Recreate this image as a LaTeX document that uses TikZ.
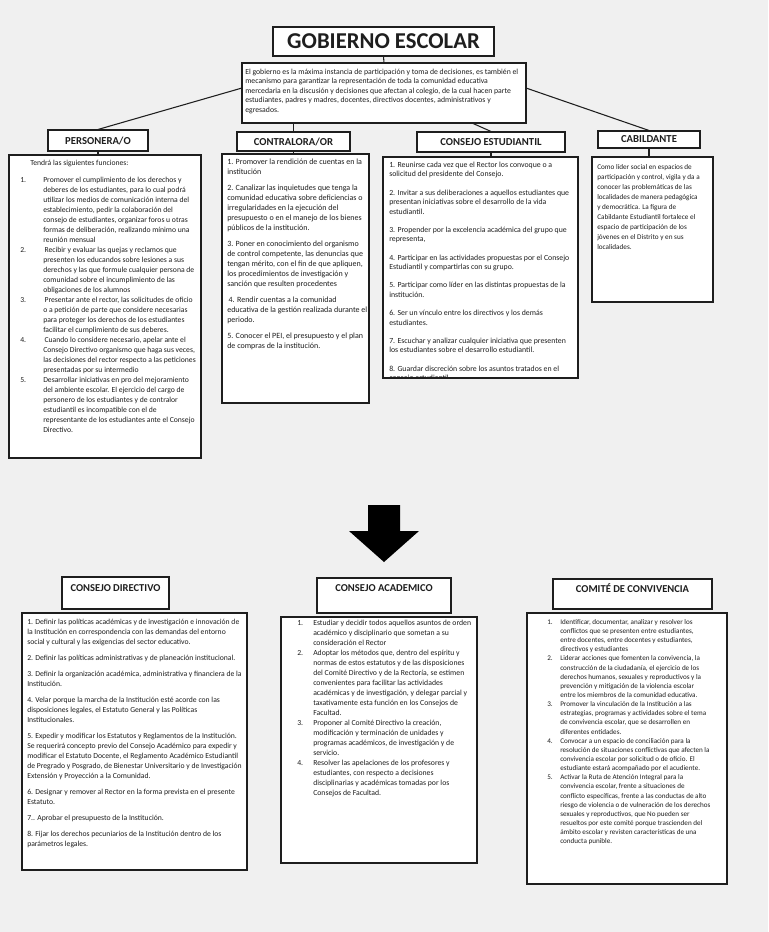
\documentclass[tikz,border=0pt]{standalone}
\usepackage{fontspec}
\setmainfont{Carlito}
\usetikzlibrary{fit}
\definecolor{bg}{RGB}{240,240,240}
\definecolor{ink}{RGB}{30,30,30}
\newcommand\tst{\rule{0pt}{5.25pt}}
\newcommand\itn[2]{\makebox[#1][l]{#2}}
\begin{document}
\begin{tikzpicture}[x=0.75pt,y=-0.75pt,
  bx/.style={draw=ink, fill=white, line width=0.8pt, inner sep=0pt},
  hd/.style={font=\fontsize{8}{9}\selectfont\bfseries, inner sep=0pt, text=ink},
  hdb/.style={font=\fontsize{7.9}{9}\selectfont\bfseries, inner sep=0pt, text=ink},
  tx/.style={anchor=north west, inner sep=0pt, align=left, text=ink},
  ln/.style={draw=ink, line width=0.8pt}]
\useasboundingbox (0,0) rectangle (768,932);
\fill[bg] (0,0) rectangle (768,932);

% ---------- top part ----------
\node[bx, fit={(273,27)(494,56)}] (title) {};
\node[font=\fontsize{17}{19}\selectfont\bfseries, inner sep=0pt, text=ink] (title-t) at (title.center) {GOBIERNO ESCOLAR};
\node[bx, fit={(242,63)(526,123)}] (desc) {};
\node[tx, font=\fontsize{5.8}{7.125}\selectfont] (desc-t) at (245,67) {\tst El gobierno es la máxima instancia de participación y toma de decisiones, es también el\\
mecanismo para garantizar la representación de toda la comunidad educativa\\
mercedaria en la discusión y decisiones que afectan al colegio, de la cual hacen parte\\
estudiantes, padres y madres, docentes, directivos docentes, administrativos y\\
egresados.};

\node[bx, fit={(48,130)(148,151)}] (pers) {};
\node[hd] (pers-t) at (pers.center) {PERSONERA/O};
\node[bx, fit={(237,132)(350,151)}] (contr) {};
\node[hd] (contr-t) at (contr.center) {CONTRALORA/OR};
\node[bx, fit={(417,132)(565,152)}] (cest) {};
\node[hd] (cest-t) at (cest.center) {CONSEJO ESTUDIANTIL};
\node[bx, fit={(598,131)(700,148)}] (cabi) {};
\node[hd] (cabi-t) at (cabi.center) {CABILDANTE};

\coordinate (dL) at (242,88);
\coordinate (dR) at (526,88);
\coordinate (dC) at (472,123);
\draw[ln] (title.south) -- (desc.north);
\draw[ln] (dL) -- (pers.north);
\draw[ln] (desc.south -| contr.north) -- (contr.north);
\draw[ln] (dC) -- (cest.north);
\draw[ln] (dR) -- (cabi.north);

% content boxes
\node[bx, fit={(9,155)(201,458)}] (persb) {};
\node[bx, fit={(222,154)(369,403)}] (contrb) {};
\node[bx, fit={(383,157)(578,378)}] (cestb) {};
\node[bx, fit={(592,157)(713,302)}] (cabib) {};
\draw[ln] (pers.south) -- (pers.south |- persb.north);
\draw[ln] (contr.south) -- (contr.south |- contrb.north);
\draw[ln] (cest.south) -- (cest.south |- cestb.north);
\draw[ln] (cabi.south) -- (cabi.south |- cabib.north);

\node[tx, font=\fontsize{5.75}{7.5}\selectfont] (pers-c) at (20,158) {\tst\hspace*{7.5pt}Tendrá las siguientes funciones:\\[5.25pt]
\itn{17.25pt}{1.}Promover el cumplimiento de los derechos y\\
\itn{17.25pt}{}deberes de los estudiantes, para lo cual podrá\\
\itn{17.25pt}{}utilizar los medios de comunicación interna del\\
\itn{17.25pt}{}establecimiento, pedir la colaboración del\\
\itn{17.25pt}{}consejo de estudiantes, organizar foros u otras\\
\itn{17.25pt}{}formas de deliberación, realizando mínimo una\\
\itn{17.25pt}{}reunión mensual\\
\itn{17.25pt}{2.}\,Recibir y evaluar las quejas y reclamos que\\
\itn{17.25pt}{}presenten los educandos sobre lesiones a sus\\
\itn{17.25pt}{}derechos y las que formule cualquier persona de\\
\itn{17.25pt}{}comunidad sobre el incumplimiento de las\\
\itn{17.25pt}{}obligaciones de los alumnos\\
\itn{17.25pt}{3.}\,Presentar ante el rector, las solicitudes de oficio\\
\itn{17.25pt}{}o a petición de parte que considere necesarias\\
\itn{17.25pt}{}para proteger los derechos de los estudiantes\\
\itn{17.25pt}{}facilitar el cumplimiento de sus deberes.\\
\itn{17.25pt}{4.}\,Cuando lo considere necesario, apelar ante el\\
\itn{17.25pt}{}Consejo Directivo organismo que haga sus veces,\\
\itn{17.25pt}{}las decisiones del rector respecto a las peticiones\\
\itn{17.25pt}{}presentadas por su intermedio\\
\itn{17.25pt}{5.}Desarrollar iniciativas en pro del mejoramiento\\
\itn{17.25pt}{}del ambiente escolar. El ejercicio del cargo de\\
\itn{17.25pt}{}personero de los estudiantes y de contralor\\
\itn{17.25pt}{}estudiantil es incompatible con el de\\
\itn{17.25pt}{}representante de los estudiantes ante el Consejo\\
\itn{17.25pt}{}Directivo.};

\node[tx, font=\fontsize{6.0}{7.5}\selectfont] (contr-c) at (227,157) {\tst 1. Promover la rendición de cuentas en la\\
institución\\[4.5pt]
2. Canalizar las inquietudes que tenga la\\
comunidad educativa sobre deficiencias o\\
irregularidades en la ejecución del\\
presupuesto o en el manejo de los bienes\\
públicos de la institución.\\[4.5pt]
3. Poner en conocimiento del organismo\\
de control competente, las denuncias que\\
tengan mérito, con el fin de que apliquen,\\
los procedimientos de investigación y\\
sanción que resulten procedentes\\[4.5pt]
\,4. Rendir cuentas a la comunidad\\
educativa de la gestión realizada durante el\\
periodo.\\[4.5pt]
5. Conocer el PEI, el presupuesto y el plan\\
de compras de la institución.};

\begin{scope}
\clip (383,157) rectangle (578,378);
\node[tx, font=\fontsize{5.85}{7.2}\selectfont] (cest-c) at (389,160) {\tst 1. Reunirse cada vez que el Rector los convoque o a\\
solicitud del presidente del Consejo.\\[6.4pt]
2. Invitar a sus deliberaciones a aquellos estudiantes que\\
presentan iniciativas sobre el desarrollo de la vida\\
estudiantil.\\[6.4pt]
3. Propender por la excelencia académica del grupo que\\
representa,\\[6.4pt]
4. Participar en las actividades propuestas por el Consejo\\
Estudiantil y compartirlas con su grupo.\\[6.4pt]
5. Participar como líder en las distintas propuestas de la\\
institución.\\[6.4pt]
6. Ser un vínculo entre los directivos y los demás\\
estudiantes.\\[6.4pt]
7. Escuchar y analizar cualquier iniciativa que presenten\\
los estudiantes sobre el desarrollo estudiantil.\\[6.4pt]
8. Guardar discreción sobre los asuntos tratados en el\\
consejo estudiantil};
\end{scope}
\draw[ln] (cestb.south west) -- (cestb.south east);

\node[tx, font=\fontsize{5.4}{7.5}\selectfont] (cabi-c) at (597,162) {\tst Como líder social en espacios de\\
participación y control, vigila y da a\\
conocer las problemáticas de las\\
localidades de manera pedagógica\\
y democrática. La figura de\\
Cabildante Estudiantil fortalece el\\
espacio de participación de los\\
jóvenes en el Distrito y en sus\\
localidades.};

% ---------- arrow ----------
\fill[black] (368,505) -- (400,505) -- (400,531) -- (419,531) -- (384,562) -- (349,531) -- (368,531) -- cycle;

% ---------- bottom part ----------
\node[bx, fit={(62,577)(169,609)}] (cdir) {};
\node[hdb] (cdir-t) at (115.5,588) {CONSEJO DIRECTIVO};
\node[bx, fit={(317,578)(451,613)}] (cacad) {};
\node[hdb] (cacad-t) at (384,588) {CONSEJO ACADEMICO};
\node[bx, fit={(553,579)(712,609)}] (ccon) {};
\node[hdb] (ccon-t) at (632.5,588) {COMITÉ DE CONVIVENCIA};

\node[bx, fit={(22,613)(247,870)}] (cdirb) {};
\node[bx, fit={(281,617)(477,863)}] (cacadb) {};
\node[bx, fit={(527,613)(727,884)}] (cconb) {};

\node[tx, font=\fontsize{5.75}{7.5}\selectfont] (cdir-c) at (27,617) {\tst 1. Definir las políticas académicas y de investigación e innovación de\\
la Institución en correspondencia con las demandas del entorno\\
social y cultural y las exigencias del sector educativo.\\[4.5pt]
2. Definir las políticas administrativas y de planeación institucional.\\[4.5pt]
3. Definir la organización académica, administrativa y financiera de la\\
Institución.\\[4.5pt]
4. Velar porque la marcha de la Institución esté acorde con las\\
disposiciones legales, el Estatuto General y las Políticas\\
Institucionales.\\[4.5pt]
5. Expedir y modificar los Estatutos y Reglamentos de la Institución.\\
Se requerirá concepto previo del Consejo Académico para expedir y\\
modificar el Estatuto Docente, el Reglamento Académico Estudiantil\\
de Pregrado y Posgrado, de Bienestar Universitario y de Investigación\\
Extensión y Proyección a la Comunidad.\\[4.5pt]
6. Designar y remover al Rector en la forma prevista en el presente\\
Estatuto.\\[4.5pt]
7.. Aprobar el presupuesto de la Institución.\\[4.5pt]
8. Fijar los derechos pecuniarios de la Institución dentro de los\\
parámetros legales.};

\node[tx, font=\fontsize{5.8}{7.5}\selectfont] (cacad-c) at (297,618) {\tst\itn{12pt}{1.}Estudiar y decidir todos aquellos asuntos de orden\\
\itn{12pt}{}académico y disciplinario que sometan a su\\
\itn{12pt}{}consideración el Rector\\
\itn{12pt}{2.}Adoptar los métodos que, dentro del espíritu y\\
\itn{12pt}{}normas de estos estatutos y de las disposiciones\\
\itn{12pt}{}del Comité Directivo y de la Rectoría, se estimen\\
\itn{12pt}{}convenientes para facilitar las actividades\\
\itn{12pt}{}académicas y de investigación, y delegar parcial y\\
\itn{12pt}{}taxativamente esta función en los Consejos de\\
\itn{12pt}{}Facultad.\\
\itn{12pt}{3.}Proponer al Comité Directivo la creación,\\
\itn{12pt}{}modificación y terminación de unidades y\\
\itn{12pt}{}programas académicos, de investigación y de\\
\itn{12pt}{}servicio.\\
\itn{12pt}{4.}Resolver las apelaciones de los profesores y\\
\itn{12pt}{}estudiantes, con respecto a decisiones\\
\itn{12pt}{}disciplinarias y académicas tomadas por los\\
\itn{12pt}{}Consejos de Facultad.};

\node[tx, font=\fontsize{5.35}{6.86}\selectfont] (ccon-c) at (547,617) {\tst\itn{9.75pt}{1.}Identificar, documentar, analizar y resolver los\\
\itn{9.75pt}{}conflictos que se presenten entre estudiantes,\\
\itn{9.75pt}{}entre docentes, entre docentes y estudiantes,\\
\itn{9.75pt}{}directivos y estudiantes\\
\itn{9.75pt}{2.}Liderar acciones que fomenten la convivencia, la\\
\itn{9.75pt}{}construcción de la ciudadanía, el ejercicio de los\\
\itn{9.75pt}{}derechos humanos, sexuales y reproductivos y la\\
\itn{9.75pt}{}prevención y mitigación de la violencia escolar\\
\itn{9.75pt}{}entre los miembros de la comunidad educativa.\\
\itn{9.75pt}{3.}Promover la vinculación de la Institución a las\\
\itn{9.75pt}{}estrategias, programas y actividades sobre el tema\\
\itn{9.75pt}{}de convivencia escolar, que se desarrollen en\\
\itn{9.75pt}{}diferentes entidades.\\
\itn{9.75pt}{4.}Convocar a un espacio de conciliación para la\\
\itn{9.75pt}{}resolución de situaciones conflictivas que afecten la\\
\itn{9.75pt}{}convivencia escolar por solicitud o de oficio. El\\
\itn{9.75pt}{}estudiante estará acompañado por el acudiente.\\
\itn{9.75pt}{5.}Activar la Ruta de Atención Integral para la\\
\itn{9.75pt}{}convivencia escolar, frente a situaciones de\\
\itn{9.75pt}{}conflicto específicas, frente a las conductas de alto\\
\itn{9.75pt}{}riesgo de violencia o de vulneración de los derechos\\
\itn{9.75pt}{}sexuales y reproductivos, que No pueden ser\\
\itn{9.75pt}{}resueltos por este comité porque trascienden del\\
\itn{9.75pt}{}ámbito escolar y revisten características de una\\
\itn{9.75pt}{}conducta punible.};
\end{tikzpicture}
\end{document}
